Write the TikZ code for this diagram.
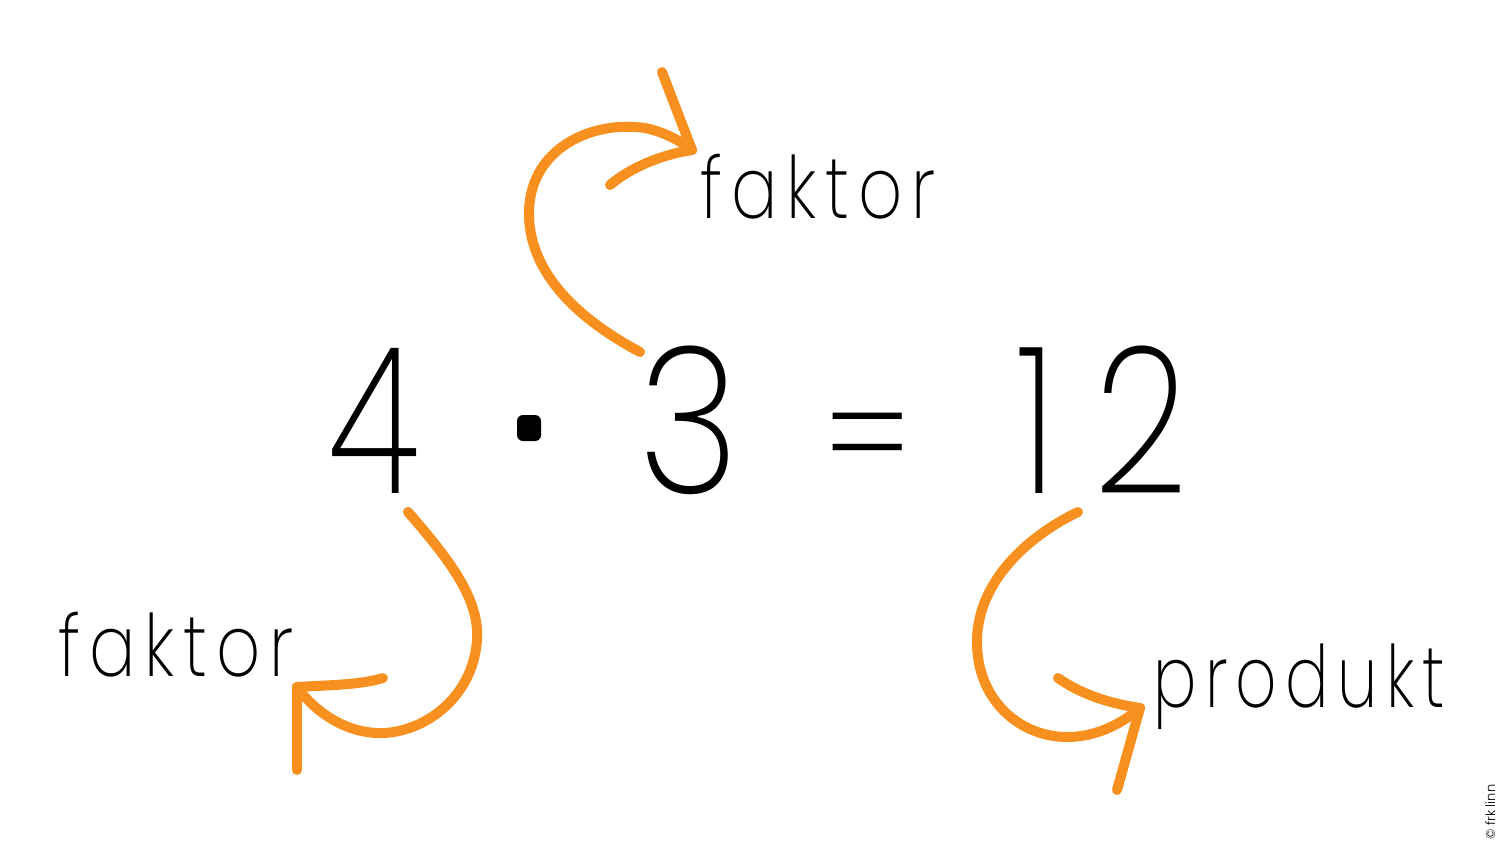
\documentclass[tikz,border=0pt]{standalone}
\usepackage{fontspec}
\setmainfont{Poppins Light}
\newfontfamily\digitfont{Poppins ExtraLight}
\newfontfamily\labfont{Poppins ExtraLight}[LetterSpace=13]
\definecolor{arrorange}{HTML}{F7901E}
\tikzset{
  arr/.style={draw=arrorange, line width=10pt, line cap=round, line join=round},
  digit/.style={inner sep=0pt, anchor=base west, font=\digitfont\fontsize{205}{205}\selectfont},
  lab/.style={inner sep=0pt, anchor=base west, font=\labfont\fontsize{86}{86}\selectfont},
}
\newcommand{\narrow}[2][0.8]{\scalebox{#1}[1]{#2}}
\begin{document}
\begin{tikzpicture}[x=1pt,y=-1pt]
\useasboundingbox (0,0) rectangle (1500,844);
\fill[white] (0,0) rectangle (1500,844);
% equation
\node[digit] (four) at (328,493) {\scalebox{0.75}[1]{4}};
\fill[black, rounded corners=6pt] (517,415) rectangle (541,441);
\coordinate (dot) at (529,428);
\node[digit] (three) at (638,493) {\scalebox{0.85}[1]{3}};
\node[digit] (eq) at (824,493) {\scalebox{0.68}[0.8]{=}};
\node[digit] (one) at (1016,493) {\scalebox{0.75}[1]{1}};
\node[digit] (two) at (1094,493) {\scalebox{0.8}[1]{2}};
% labels
\node[lab] (ftop) at (700,218) {\narrow{faktor}};
\node[lab] (fleft) at (58,676) {\narrow{faktor}};
\node[lab] (prod) at (1153,707) {\narrow[0.75]{produkt}};
% arrows
\coordinate (a1s) at (640,352);
\coordinate (a1t) at (692,150);
\draw[arr] (a1s) .. controls (580,320) and (530,275) .. (529,215)
  .. controls (528,150) and (590,120) .. (645,128)
  .. controls (665,132) and (682,142) .. (a1t);
\draw[arr] (a1t) -- (662,72);
\draw[arr] (a1t) .. controls (660,155) and (630,168) .. (610,185);
\coordinate (a2s) at (408,512);
\coordinate (a2t) at (297,687);
\draw[arr] (a2s) .. controls (450,560) and (480,600) .. (477,640)
  .. controls (473,700) and (420,735) .. (377,733)
  .. controls (345,732) and (315,712) .. (a2t);
\draw[arr] (a2t) -- (297,770);
\draw[arr] (a2t) .. controls (330,685) and (360,685) .. (383,678);
\coordinate (a3s) at (1078,512);
\coordinate (a3t) at (1140,708);
\draw[arr] (a3s) .. controls (1030,535) and (978,580) .. (977,640)
  .. controls (976,700) and (1020,737) .. (1067,737)
  .. controls (1095,737) and (1120,725) .. (a3t);
\draw[arr] (a3t) -- (1117,790);
\draw[arr] (a3t) .. controls (1100,702) and (1075,690) .. (1058,678);
% copyright
\node[inner sep=0pt, rotate=90, anchor=base west, font=\fontsize{13}{13}\selectfont] (copy) at (1495,840) {© frk linn};
\end{tikzpicture}
\end{document}
